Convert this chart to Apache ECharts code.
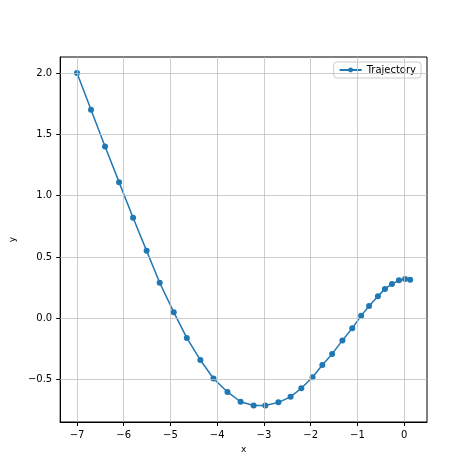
<!DOCTYPE html><html><head><meta charset="utf-8"><script src="https://cdn.jsdelivr.net/npm/echarts@6/dist/echarts.min.js"></script></head><body style="margin:0"><div id="c" style="width:474px;height:474px"></div><script>
const xs=[-7,-6.70,-6.40,-6.10,-5.80,-5.51,-5.23,-4.93,-4.65,-4.36,-4.08,-3.78,-3.50,-3.22,-2.97,-2.69,-2.43,-2.20,-1.96,-1.75,-1.54,-1.32,-1.11,-0.92,-0.75,-0.56,-0.41,-0.26,-0.11,0.02,0.13];
const ys=[2.0,1.70,1.40,1.11,0.82,0.55,0.29,0.05,-0.16,-0.34,-0.49,-0.60,-0.68,-0.71,-0.71,-0.685,-0.64,-0.57,-0.48,-0.38,-0.29,-0.18,-0.08,0.02,0.10,0.18,0.24,0.28,0.31,0.32,0.315];
const xTicks=[-7,-6,-5,-4,-3,-2,-1,0];
const yTicks=[-0.5,0,0.5,1,1.5,2];
const ch=echarts.init(document.getElementById('c'));
const ax={axisLine:{onZero:false,lineStyle:{color:'#000'}},axisTick:{lineStyle:{color:'#000'},length:4},axisLabel:{color:'#000',fontSize:10,fontFamily:'DejaVu Sans'},splitLine:{show:false},nameTextStyle:{color:'#000',fontSize:9,fontFamily:'DejaVu Sans'},nameLocation:'middle'};
ch.setOption({animation:false,grid:{left:59,right:47,top:57,bottom:52,show:true,borderColor:'#000',borderWidth:1},
legend:{right:53,top:62,data:['Trajectory'],textStyle:{fontSize:10,color:'#000',fontFamily:'DejaVu Sans'},itemWidth:22,itemHeight:6,borderColor:'#ccc',borderWidth:1,borderRadius:3,padding:[3,5]},
xAxis:Object.assign({},ax,{type:'value',name:'x',nameGap:20,min:-7.36,max:0.49,axisLabel:Object.assign({},ax.axisLabel,{customValues:xTicks,formatter:v=>(v<0?'−':'')+Math.abs(Math.round(v))}),axisTick:Object.assign({},ax.axisTick,{customValues:xTicks})}),
yAxis:Object.assign({},ax,{type:'value',name:'y',nameGap:32,min:-0.845,max:2.13,axisLabel:Object.assign({},ax.axisLabel,{customValues:yTicks,formatter:v=>(v<0?'−':'')+Math.abs(v).toFixed(1)}),axisTick:Object.assign({},ax.axisTick,{customValues:yTicks})}),
series:[{name:'Trajectory',type:'line',data:xs.map((x,i)=>[x,ys[i]]),symbol:'circle',symbolSize:6,itemStyle:{color:'#1f77b4'},lineStyle:{width:1.5,color:'#1f77b4'},
markLine:{silent:true,symbol:'none',label:{show:false},lineStyle:{color:'#c0c0c0',width:0.8,type:'solid'},data:xTicks.map(v=>({xAxis:v})).concat(yTicks.map(v=>({yAxis:v})))}}]});
</script></body></html>
